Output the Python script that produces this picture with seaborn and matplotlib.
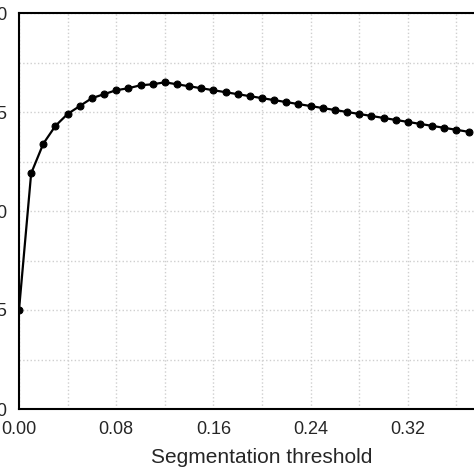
import matplotlib
matplotlib.use("Agg")
import matplotlib.pyplot as plt
import seaborn as sns
import numpy as np

# data
thresholds = [0.00, 0.01, 0.02, 0.03, 0.04, 0.05, 0.06, 0.07, 0.08, 0.09,
              0.10, 0.11, 0.12, 0.13, 0.14, 0.15, 0.16, 0.17, 0.18, 0.19,
              0.20, 0.21, 0.22, 0.23, 0.24, 0.25, 0.26, 0.27, 0.28, 0.29,
              0.30, 0.31, 0.32, 0.33, 0.34, 0.35, 0.36, 0.37]
scores = [0.750, 0.819, 0.834, 0.843, 0.849, 0.853, 0.857, 0.859, 0.861, 0.862,
          0.8635, 0.864, 0.865, 0.8640, 0.8630, 0.8620, 0.8610, 0.8600, 0.8590, 0.8580,
          0.8570, 0.8560, 0.8550, 0.8540, 0.8530, 0.8520, 0.8510, 0.8500, 0.8490, 0.8480,
          0.8470, 0.8460, 0.8450, 0.8440, 0.8430, 0.8420, 0.8410, 0.8400]
x_ticks = [0.00, 0.08, 0.16, 0.24, 0.32, 0.40]
x_labels = ['0.00', '0.08', '0.16', '0.24', '0.32', '']
y_ticks = [0.70, 0.75, 0.80, 0.85, 0.90]

sns.set_style("white")
plt.rcParams['font.family'] = ['Liberation Sans', 'DejaVu Sans']

fig = plt.figure(figsize=(4.74, 4.74), dpi=100)
# axes deliberately reaches past the figure edges (reference is a crop)
ax = fig.add_axes([19/474, 65/474, 486/474, 396/474])

sns.lineplot(x=thresholds, y=scores, ax=ax, color='black', linewidth=1.6,
             marker='o', markersize=5, markeredgecolor='black')

ax.set_xlim(0, 0.40)
ax.set_ylim(0.70, 0.90)
ax.set_xticks(x_ticks)
ax.set_xticks(np.arange(0.04, 0.40, 0.08), minor=True)
ax.set_yticks(y_ticks)
ax.set_yticks(np.arange(0.725, 0.90, 0.05), minor=True)
ax.set_xticklabels(x_labels)
ax.set_yticklabels([f"{t:.2f}" for t in y_ticks])
ax.grid(True, which='both', color='#cfcfcf', linestyle=':', linewidth=1)
ax.tick_params(which='major', direction='out', length=5, width=1.2, labelsize=13)
ax.tick_params(which='minor', direction='out', length=3, width=1.2)
for s in ax.spines.values():
    s.set_linewidth(1.5)
    s.set_color('black')
ax.set_xlabel('Segmentation threshold', fontsize=15, labelpad=7)

fig.savefig('out.png', dpi=100)
